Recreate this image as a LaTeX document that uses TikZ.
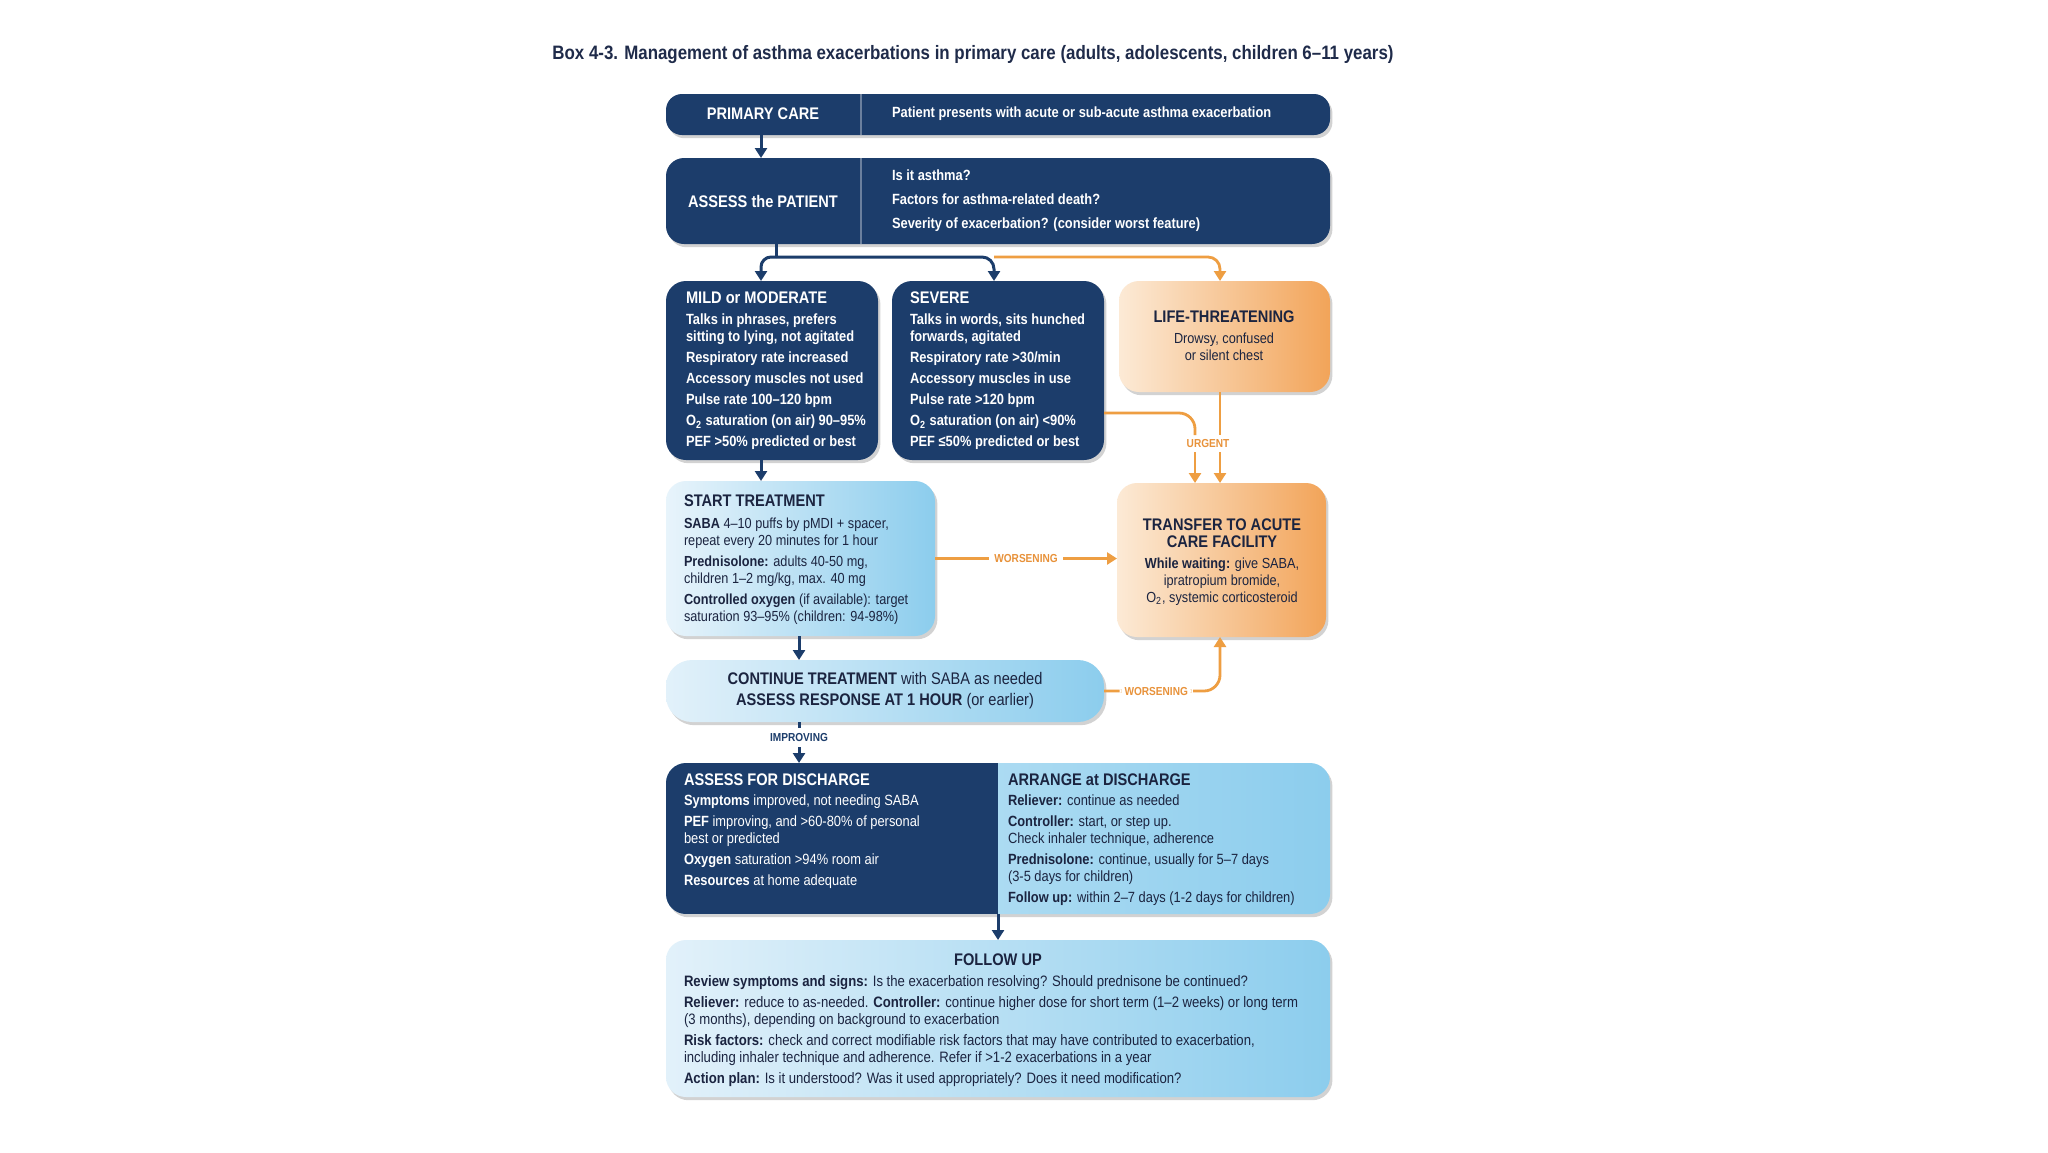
\documentclass[tikz,border=0pt]{standalone}
\usepackage{fontspec}
\setmainfont{Liberation Sans}[FakeStretch=0.87]
\usetikzlibrary{arrows.meta,shadows,fit}
\definecolor{navy}{HTML}{1C3D6B}
\definecolor{titlec}{HTML}{1F2B4A}
\definecolor{darktxt}{HTML}{1B2440}
\definecolor{lbL}{HTML}{E2F1FA}
\definecolor{lbR}{HTML}{8CCDED}
\definecolor{orL}{HTML}{FCEAD6}
\definecolor{orR}{HTML}{F2A459}
\definecolor{oline}{HTML}{EE9E42}
\definecolor{otxt}{HTML}{E8923A}
\tikzset{
  box/.style={inner sep=0pt, outer sep=0pt, rounded corners=10pt,
    drop shadow={shadow xshift=1.2pt, shadow yshift=-1.6pt, opacity=.35}},
  navybox/.style={box, fill=navy},
  bluebox/.style={box, left color=lbL, right color=lbR},
  orangebox/.style={box, left color=orL, right color=orR},
  wtitle/.style={inner sep=0pt, outer sep=0pt, text=white, font=\fontsize{8.4}{9}\selectfont\bfseries},
  dtitle/.style={inner sep=0pt, outer sep=0pt, text=darktxt, font=\fontsize{8.4}{9}\selectfont\bfseries},
  wbody/.style={inner sep=0pt, outer sep=0pt, text=white, align=left, font=\fontsize{7.4}{8.5}\selectfont\bfseries},
  wbodyn/.style={inner sep=0pt, outer sep=0pt, text=white, align=left, font=\fontsize{7.4}{8.5}\selectfont},
  dbody/.style={inner sep=0pt, outer sep=0pt, text=darktxt, align=left, font=\fontsize{7.3}{8.5}\selectfont},
  narrow/.style={-{Triangle[width=6pt,length=5pt]}, draw=navy, line width=1.5pt},
  nline/.style={draw=navy, line width=1.5pt},
  oarrow/.style={-{Triangle[width=6pt,length=5pt]}, draw=oline, line width=1.4pt},
  olinestyle/.style={draw=oline, line width=1.4pt},
  lbl/.style={font=\fontsize{5.8}{6}\selectfont\bfseries, text=otxt, fill=white, inner sep=2.5pt},
  divider/.style={draw=white, draw opacity=.35, line width=.6pt}
}
\begin{document}
\begin{tikzpicture}[x=0.5pt,y=-0.5pt]
\useasboundingbox (0,0) rectangle (2048,1152);
\fill[white] (0,0) rectangle (2048,1152);

% helper coordinates
\coordinate (cA) at (761,0);
\coordinate (cB) at (776,0);
\coordinate (cC) at (994,0);
\coordinate (cD) at (1220,0);
\coordinate (cE) at (1195,0);
\coordinate (cF) at (799,0);
\coordinate (cG) at (998,0);
\coordinate (cDiv) at (861,0);
\coordinate (yH) at (0,257);
\coordinate (yS) at (0,413);
\coordinate (yU1) at (0,435);
\coordinate (yU2) at (0,452);
\coordinate (yW) at (0,691);

% title
\node[font=\fontsize{9.7}{11}\selectfont\bfseries, text=titlec, inner sep=0pt] (title) at (973,55)
  {Box 4-3. Management of asthma exacerbations in primary care (adults, adolescents, children 6–11 years)};

% boxes
\node[navybox, rounded corners=8pt, fit={(666,94) (1330,135)}] (primary) {};
\node[navybox, rounded corners=9pt, fit={(666,158) (1330,244)}] (assess) {};
\node[navybox, fit={(666,281) (878,460)}] (mild) {};
\node[navybox, fit={(892,281) (1104,460)}] (severe) {};
\node[orangebox, fit={(1119,281) (1330,392)}] (life) {};
\node[bluebox, left color=lbL!80!white, fit={(666,481) (935,636)}] (start) {};
\node[orangebox, fit={(1117,483) (1326,637)}] (transfer) {};
\node[bluebox, rounded corners=13pt, fit={(666,660) (1104,722)}] (cont) {};
\node[bluebox, left color=lbR!45!white, fit={(666,763) (1330,914)}] (disch) {};
\begin{scope}
  \clip[rounded corners=10pt] (666,763) rectangle (1330,914);
  \fill[navy] (666,763) rectangle (998,914);
\end{scope}
\node[bluebox, fit={(666,940) (1330,1097)}] (follow) {};

% dividers
\draw[divider] (primary.north -| cDiv) -- (primary.south -| cDiv);
\draw[divider] (assess.north -| cDiv) -- (assess.south -| cDiv);

% primary care texts
\node[wtitle] (primT) at (763,114) {PRIMARY CARE};
\node[wbody, anchor=west] (primB) at (892,114) {Patient presents with acute or sub-acute asthma exacerbation};

% assess texts
\node[wtitle] (assT) at (763,201) {ASSESS the PATIENT};
\node[wbody, anchor=north west, font=\fontsize{7.4}{12}\selectfont\bfseries] (assB) at (892,170)
  {Is it asthma?\\ Factors for asthma-related death?\\ Severity of exacerbation? (consider worst feature)};

% mild
\node[wtitle, anchor=west] (mildT) at (686,298) {MILD or MODERATE};
\node[wbody, anchor=north west] (mildB) at (686,314)
  {Talks in phrases, prefers\\ sitting to lying, not agitated\\[2pt]
   Respiratory rate increased\\[2pt] Accessory muscles not used\\[2pt]
   Pulse rate 100–120 bpm\\[2pt] O\textsubscript{2} saturation (on air) 90–95\%\\[2pt]
   PEF >50\% predicted or best};

% severe
\node[wtitle, anchor=west] (sevT) at (910,298) {SEVERE};
\node[wbody, anchor=north west] (sevB) at (910,314)
  {Talks in words, sits hunched\\ forwards, agitated\\[2pt]
   Respiratory rate >30/min\\[2pt] Accessory muscles in use\\[2pt]
   Pulse rate >120 bpm\\[2pt] O\textsubscript{2} saturation (on air) <90\%\\[2pt]
   PEF ≤50\% predicted or best};

% life threatening
\node[dtitle] (lifeT) at (1224,317) {LIFE-THREATENING};
\node[dbody, align=center, anchor=north] (lifeB) at (1224,333) {Drowsy, confused\\ or silent chest};

% start treatment
\node[dtitle, anchor=west] (startT) at (684,501) {START TREATMENT};
\node[dbody, anchor=north west] (startB) at (684,518)
  {\textbf{SABA} 4–10 puffs by pMDI + spacer,\\ repeat every 20 minutes for 1 hour\\[2pt]
   \textbf{Prednisolone:} adults 40-50 mg,\\ children 1–2 mg/kg, max. 40 mg\\[2pt]
   \textbf{Controlled oxygen} (if available): target\\ saturation 93–95\% (children: 94-98\%)};

% transfer
\node[dtitle, align=center, anchor=north, font=\fontsize{8.4}{8.2}\selectfont\bfseries] (trT) at (1222,519) {TRANSFER TO ACUTE\\ CARE FACILITY};
\node[dbody, align=center, anchor=north] (trB) at (1222,558)
  {\textbf{While waiting:} give SABA,\\ ipratropium bromide,\\ O\textsubscript{2}, systemic corticosteroid};

% continue
\node[dbody, align=center, font=\fontsize{8.4}{10.5}\selectfont] (contT) at (885,691)
  {\textbf{CONTINUE TREATMENT} with SABA as needed\\ \textbf{ASSESS RESPONSE AT 1 HOUR} (or earlier)};

% discharge
\node[wtitle, anchor=west] (dischT) at (684,780) {ASSESS FOR DISCHARGE};
\node[wbodyn, anchor=north west] (dischB) at (684,795)
  {\textbf{Symptoms} improved, not needing SABA\\[2pt]
   \textbf{PEF} improving, and >60-80\% of personal\\ best or predicted\\[2pt]
   \textbf{Oxygen} saturation >94\% room air\\[2pt]
   \textbf{Resources} at home adequate};
\node[dtitle, anchor=west] (arrT) at (1008,780) {ARRANGE at DISCHARGE};
\node[dbody, anchor=north west, font=\fontsize{7.4}{8.5}\selectfont] (arrB) at (1008,795)
  {\textbf{Reliever:} continue as needed\\[2pt]
   \textbf{Controller:} start, or step up.\\ Check inhaler technique, adherence\\[2pt]
   \textbf{Prednisolone:} continue, usually for 5–7 days\\ (3-5 days for children)\\[2pt]
   \textbf{Follow up:} within 2–7 days (1-2 days for children)};

% follow up
\node[dtitle] (folT) at (998,960) {FOLLOW UP};
\node[dbody, anchor=north west, font=\fontsize{7.55}{8.5}\selectfont] (folB) at (684,976)
  {\textbf{Review symptoms and signs:} Is the exacerbation resolving? Should prednisone be continued?\\[2pt]
   \textbf{Reliever:} reduce to as-needed. \textbf{Controller:} continue higher dose for short term (1–2 weeks) or long term\\
   (3 months), depending on background to exacerbation\\[2pt]
   \textbf{Risk factors:} check and correct modifiable risk factors that may have contributed to exacerbation,\\
   including inhaler technique and adherence. Refer if >1-2 exacerbations in a year\\[2pt]
   \textbf{Action plan:} Is it understood? Was it used appropriately? Does it need modification?};

% connectors
\draw[narrow] (primary.south -| cA) -- (assess.north -| cA);
\draw[nline] (assess.south -| cB) -- (cB |- yH);
\draw[narrow, rounded corners=5pt] (cB |- yH) -| (mild.north -| cA);
\draw[narrow, rounded corners=6pt] (cB |- yH) -| (severe.north -| cC);
\draw[oarrow, rounded corners=6pt] (cC |- yH) -| (life.north -| cD);

\draw[olinestyle, rounded corners=8pt] (severe.east |- yS) -| (cE |- yU1);
\draw[olinestyle] (life.south -| cD) -- (cD |- yU1);
\node[lbl, fill=none, inner sep=0pt] (urgent) at (1208,443) {URGENT};
\draw[oarrow] (cE |- yU2) -- (transfer.north -| cE);
\draw[oarrow] (cD |- yU2) -- (transfer.north -| cD);

\draw[narrow] (mild.south -| cA) -- (start.north -| cA);
\draw[narrow] (start.south -| cF) -- (cont.north -| cF);
\draw[oarrow] (start.east) -- node[lbl] (worse1) {WORSENING} (transfer.west |- start.east);
\draw[oarrow, rounded corners=8pt] (cont.east |- yW) -- node[lbl, pos=0.45] (worse2) {WORSENING} (cD |- yW) -- (transfer.south -| cD);
\draw[narrow] (cont.south -| cF) -- node[lbl, text=navy, pos=0.38] (impr) {IMPROVING} (disch.north -| cF);
\draw[narrow] (disch.south -| cG) -- (follow.north -| cG);
\end{tikzpicture}
\end{document}
